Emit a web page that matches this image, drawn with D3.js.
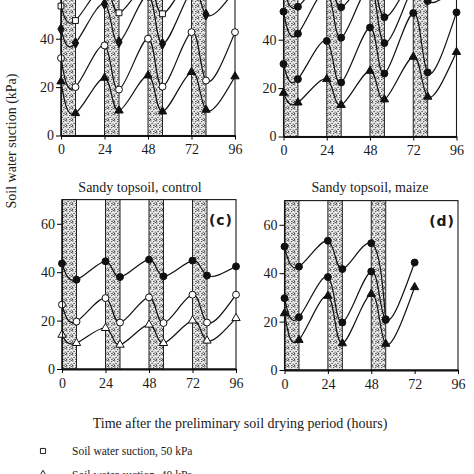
<!DOCTYPE html>
<html>
<head>
<meta charset="utf-8">
<script src="https://cdn.jsdelivr.net/npm/d3@7"></script>
<style>
  body { margin: 0; background: #fff; }
  svg { display: block; font-family: "Liberation Serif", "DejaVu Serif", serif; }
</style>
</head>
<body>
<div id="chart"></div>
<script>
// measurement times (hours after the preliminary drying period)
const hours = [0, 8, 24, 32, 48, 56, 72, 80, 96];
const xTicks = [0, 24, 48, 72, 96];
const yTicks = [0, 20, 40, 60];

// shaded (dark) periods, hours
const darkPeriods = [[0, 8], [24, 32], [48, 56], [72, 80]];
const darkPeriodsD = [[0, 8], [24, 32], [48, 56]];

// panel (a) - values above ~56 kPa are off the top of the picture
const aSquare = [53.5, 47.5, 62, 50.7, 63, 50.3, 66, 58, 66];
const aDiamond = [44, 38.2, 54.4, 38.6, 58, 37.9, 60, 50, 60];
const aCircle = [32, 20, 37.2, 19, 40, 20.2, 42.7, 22.7, 42.7];
const aTriangle = [22.3, 9.2, 23.8, 10.3, 24.8, 9.9, 26.2, 10.6, 24.4];

// panel (b)
const bTop = [62, 53.6, 66, 53.4, 66, 49.3, 66, 62, 66];
const bSecond = [51.6, 42.5, 60, 40.8, 62, 38.6, 62, 56, 62];
const bThird = [30, 23.7, 39.5, 22.3, 45, 26, 51, 26.5, 51.3];
const bTriangle = [18, 14, 23.7, 13, 27.1, 15.3, 32.9, 16.4, 34.9];

// panel (c) Sandy topsoil, control
const cTop = [43.6, 36.9, 44.5, 38, 45.2, 38.3, 44.8, 38.6, 42.4];
const cMiddle = [26.6, 19.6, 29.3, 19.2, 29.6, 19, 30.7, 19.2, 30.7];
const cTriangle = [14.1, 10.7, 16.9, 10, 18.3, 10.7, 20, 11.7, 21];

// panel (d) Sandy topsoil, maize
const dTop = [51, 42.7, 53.4, 41.7, 52.4, 21];
const dMiddle = [29.7, 21.8, 38.4, 19.6, 40.7, 20.7, 44.4];
const dTriangle = [23.4, 12.4, 30.6, 11, 31.4, 10.8, 34.2];

const legendLabels = ["Soil water suction, 50 kPa", "Soil water suction, 40 kPa"];

const W = 474, H = 474;
const pxPerKpa = 2.42;
const serif = "Liberation Serif, DejaVu Serif, serif";

const svg = d3.select("#chart").append("svg")
    .attr("width", W)
    .attr("height", H);

// stipple pattern for the dark periods
let defs = svg.append("defs");
let pat = defs.append("pattern")
    .attr("id", "stipple")
    .attr("patternUnits", "userSpaceOnUse")
    .attr("width", 6)
    .attr("height", 6);
pat.append("rect").attr("width", 6).attr("height", 6).attr("fill", "#ececec");
[[0.8, 0.9], [3.7, 1.6], [2.1, 3.4], [5.2, 4.1], [0.6, 5.2], [3.9, 5.4], [5.3, 0.3]].forEach(p => {
    pat.append("circle").attr("cx", p[0]).attr("cy", p[1]).attr("r", 0.7).attr("fill", "#3a3a3a");
});

const marker = {
    square: d3.symbol(d3.symbolSquare, 34),
    diamond: d3.symbol(d3.symbolDiamond, 34),
    circle: d3.symbol(d3.symbolCircle, 38),
    triangle: d3.symbol(d3.symbolTriangle, 30)
};

const panels = [
    { id: "a", x0: 61, x1: 235, yb: 135.5, periods: darkPeriods,
      series: [
        { v: aSquare, m: "square", fill: "#fff" },
        { v: aDiamond, m: "diamond", fill: "#111" },
        { v: aCircle, m: "circle", fill: "#fff" },
        { v: aTriangle, m: "triangle", fill: "#111" }] },
    { id: "b", x0: 283.5, x1: 456.5, yb: 136.5, periods: darkPeriods,
      series: [
        { v: bTop, m: "circle", fill: "#111" },
        { v: bSecond, m: "circle", fill: "#111" },
        { v: bThird, m: "circle", fill: "#111" },
        { v: bTriangle, m: "triangle", fill: "#111" }] },
    { id: "c", x0: 62, x1: 236, yb: 369, periods: darkPeriods, title: "Sandy topsoil, control", tx: 140,
      series: [
        { v: cTop, m: "circle", fill: "#111" },
        { v: cMiddle, m: "circle", fill: "#fff" },
        { v: cTriangle, m: "triangle", fill: "#fff" }] },
    { id: "d", x0: 284.5, x1: 458, yb: 370, periods: darkPeriodsD, title: "Sandy topsoil, maize", tx: 370,
      series: [
        { v: dTop, m: "circle", fill: "#111" },
        { v: dMiddle, m: "circle", fill: "#111" },
        { v: dTriangle, m: "triangle", fill: "#111" }] }
];

panels.forEach(p => {
    let x = d3.scaleLinear().domain([0, 96]).range([p.x0, p.x1]);
    let y = d3.scaleLinear().domain([0, 70]).range([p.yb, p.yb - 70 * pxPerKpa]);
    let g = svg.append("g");

    // dark periods
    g.selectAll("rect.period")
        .data(p.periods)
        .enter()
        .append("rect")
        .attr("class", "period")
        .attr("x", d => x(d[0]))
        .attr("y", y(70))
        .attr("width", d => x(d[1]) - x(d[0]))
        .attr("height", y(0) - y(70))
        .attr("fill", "url(#stipple)")
        .attr("stroke", "#222")
        .attr("stroke-width", 1);

    // frame
    g.append("rect")
        .attr("x", p.x0).attr("y", y(70))
        .attr("width", p.x1 - p.x0).attr("height", y(0) - y(70))
        .attr("fill", "none").attr("stroke", "#1a1a1a").attr("stroke-width", 1.1);

    // clip for curves
    defs.append("clipPath").attr("id", "clip-" + p.id)
        .append("rect")
        .attr("x", p.x0).attr("y", y(70))
        .attr("width", p.x1 - p.x0).attr("height", y(0) - y(70));

    let line = d3.line()
        .x((d, i) => x(hours[i]))
        .y(d => y(d))
        .curve(d3.curveNatural);

    p.series.forEach(s => {
        g.append("path")
            .attr("d", line(s.v))
            .attr("clip-path", "url(#clip-" + p.id + ")")
            .attr("fill", "none")
            .attr("stroke", "#111")
            .attr("stroke-width", 1.2);
    });

    p.series.forEach(s => {
        g.selectAll(null)
            .data(s.v)
            .enter()
            .append("path")
            .attr("d", marker[s.m])
            .attr("transform", (d, i) => "translate(" + x(hours[i]) + "," + y(d) + ")")
            .attr("fill", s.fill)
            .attr("stroke", "#111")
            .attr("stroke-width", 1);
    });

    // axes
    let xAxis = g.append("g")
        .attr("transform", "translate(0," + p.yb + ")")
        .call(d3.axisBottom(x).tickValues(xTicks).tickSize(4).tickPadding(5).tickSizeOuter(0))
        .attr("font-family", serif);
    xAxis.select(".domain").attr("stroke", "#111").attr("stroke-width", 1.8);
    xAxis.selectAll("text").attr("font-size", 14).attr("fill", "#1a1a1a");

    let yAxis = g.append("g")
        .attr("transform", "translate(" + p.x0 + ",0)")
        .call(d3.axisLeft(y).tickValues(yTicks).tickSize(5).tickPadding(2).tickSizeOuter(0))
        .attr("font-family", serif);
    yAxis.select(".domain").attr("stroke", "#111").attr("stroke-width", 1.1);
    yAxis.selectAll("text").attr("font-size", 14).attr("fill", "#1a1a1a");

    if (p.title) {
        g.append("text")
            .attr("x", p.tx).attr("y", 192)
            .attr("text-anchor", "middle")
            .attr("font-size", 14)
            .attr("fill", "#1a1a1a")
            .text(p.title);
        g.append("text")
            .attr("x", p.x1 - 3).attr("y", y(70) + 25)
            .attr("text-anchor", "end")
            .attr("font-family", "DejaVu Sans")
            .attr("font-weight", "bold")
            .attr("font-size", 14)
            .attr("letter-spacing", 1)
            .attr("fill", "#1a1a1a")
            .text("(" + p.id + ")");
    }
});

// y-axis title
svg.append("text")
    .attr("transform", "translate(16,141) rotate(-90)")
    .attr("text-anchor", "middle")
    .attr("font-size", 14)
    .attr("fill", "#1a1a1a")
    .text("Soil water suction (kPa)");

// x-axis title
svg.append("text")
    .attr("x", 240).attr("y", 428)
    .attr("text-anchor", "middle")
    .attr("font-size", 14)
    .attr("fill", "#1a1a1a")
    .text("Time after the preliminary soil drying period (hours)");

// legend (partly cut off at the bottom)
const legendMarks = ["square", "diamond"];
legendLabels.forEach((lab, i) => {
    let ly = 451 + i * 24;
    svg.append("path")
        .attr("d", d3.symbol(d3[legendMarks[i] == "square" ? "symbolSquare" : "symbolDiamond"], 26)())
        .attr("transform", "translate(43," + ly + ")")
        .attr("fill", "#fff")
        .attr("stroke", "#222")
        .attr("stroke-width", 1);
    svg.append("text")
        .attr("x", 72).attr("y", ly + 4)
        .attr("font-size", 11.5)
        .attr("fill", "#1a1a1a")
        .text(lab);
});
</script>
</body>
</html>
